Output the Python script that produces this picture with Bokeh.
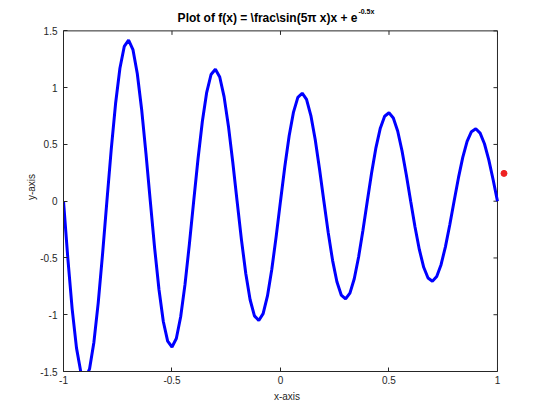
from bokeh.plotting import figure
from bokeh.models import FixedTicker, Label, Range1d
from bokeh.embed import file_html
from bokeh.resources import INLINE

# ---- data ----
x_vals = [-1.00, -0.98, -0.96, -0.94, -0.92, -0.90, -0.88, -0.86, -0.84, -0.82,
          -0.80, -0.78, -0.76, -0.74, -0.72, -0.70, -0.68, -0.66, -0.64, -0.62,
          -0.60, -0.58, -0.56, -0.54, -0.52, -0.50, -0.48, -0.46, -0.44, -0.42,
          -0.40, -0.38, -0.36, -0.34, -0.32, -0.30, -0.28, -0.26, -0.24, -0.22,
          -0.20, -0.18, -0.16, -0.14, -0.12, -0.10, -0.08, -0.06, -0.04, -0.02,
          0.00, 0.02, 0.04, 0.06, 0.08, 0.10, 0.12, 0.14, 0.16, 0.18,
          0.20, 0.22, 0.24, 0.26, 0.28, 0.30, 0.32, 0.34, 0.36, 0.38,
          0.40, 0.42, 0.44, 0.46, 0.48, 0.50, 0.52, 0.54, 0.56, 0.58,
          0.60, 0.62, 0.64, 0.66, 0.68, 0.70, 0.72, 0.74, 0.76, 0.78,
          0.80, 0.82, 0.84, 0.86, 0.88, 0.90, 0.92, 0.94, 0.96, 0.98, 1.00]
y_vals = [0.000, -0.504, -0.950, -1.294, -1.506, -1.568, -1.477, -1.244, -0.895, -0.466,
          0.000, 0.456, 0.860, 1.171, 1.363, 1.419, 1.336, 1.125, 0.810, 0.421,
          0.000, -0.413, -0.778, -1.060, -1.233, -1.284, -1.209, -1.018, -0.733, -0.381,
          0.000, 0.374, 0.704, 0.959, 1.116, 1.162, 1.094, 0.921, 0.663, 0.345,
          0.000, -0.338, -0.637, -0.868, -1.010, -1.051, -0.990, -0.834, -0.600, -0.312,
          0.000, 0.306, 0.576, 0.785, 0.914, 0.951, 0.896, 0.754, 0.543, 0.282,
          0.000, -0.277, -0.521, -0.710, -0.827, -0.861, -0.810, -0.683, -0.491, -0.256,
          0.000, 0.250, 0.472, 0.643, 0.748, 0.779, 0.733, 0.618, 0.444, 0.231,
          0.000, -0.227, -0.427, -0.582, -0.677, -0.705, -0.664, -0.559, -0.402, -0.209,
          0.000, 0.205, 0.386, 0.526, 0.612, 0.638, 0.600, 0.506, 0.364, 0.189, 0.000]
dot_x = [1.03]
dot_y = [0.245]
x_ticks = [-1, -0.5, 0, 0.5, 1]
x_tick_labels = ["-1", "-0.5", "0", "0.5", "1"]
y_ticks = [-1.5, -1, -0.5, 0, 0.5, 1, 1.5]
y_tick_labels = ["-1.5", "-1", "-0.5", "0", "0.5", "1", "1.5"]
x_limits = (-1, 1)
y_limits = (-1.5, 1.5)
title_main = "Plot of f(x) = \\frac\\sin(5\u03c0 x)x + e"
title_sup = "-0.5x"
x_label = "x-axis"
y_label = "y-axis"

AX = "#262626"
FONT = "Liberation Sans"
TICK = 4  # tick length in pixels

# the frame is a little larger than the axes box so that the title and the
# red point (both outside the box in the original) are not clipped
X_SPAN = (-1, 1.06)
Y_SPAN = (-1.5, 1.75)
FW, FH = 447, 369
p = figure(x_range=Range1d(*X_SPAN), y_range=Range1d(*Y_SPAN),
           frame_width=FW, frame_height=FH,
           output_backend="svg", toolbar_location=None,
           x_axis_label=x_label, y_axis_label=y_label,
           min_border_left=63, min_border_right=35, min_border_top=2, min_border_bottom=32)
p.grid.grid_line_color = None
p.outline_line_color = None

xo = {t: l for t, l in zip(x_ticks, x_tick_labels)}
yo = {t: l for t, l in zip(y_ticks, y_tick_labels)}

for ax, overrides, bounds in ((p.xaxis[0], xo, x_limits), (p.yaxis[0], yo, y_limits)):
    ax.ticker = FixedTicker(ticks=list(overrides.keys()))
    ax.major_label_overrides = overrides
    ax.bounds = bounds
    ax.minor_tick_line_color = None
    ax.major_tick_in = TICK
    ax.major_tick_out = 0
    ax.axis_line_color = AX
    ax.major_tick_line_color = AX
    ax.major_label_text_color = AX
    ax.major_label_text_font = FONT
    ax.major_label_text_font_size = "10px"
    ax.axis_label_text_font = FONT
    ax.axis_label_text_font_size = "10px"
    ax.axis_label_text_font_style = "normal"
    ax.axis_label_text_color = AX

p.xaxis[0].major_label_standoff = 4
p.xaxis[0].axis_label_standoff = 4
p.yaxis[0].major_label_standoff = 6
p.yaxis[0].axis_label_standoff = 0

# top and right sides of the axes box, with inward ticks
p.line(x=[x_limits[0], x_limits[1], x_limits[1]],
       y=[y_limits[1], y_limits[1], y_limits[0]],
       line_color=AX, line_width=1)
dy = TICK * (Y_SPAN[1] - Y_SPAN[0]) / FH
dx = TICK * (X_SPAN[1] - X_SPAN[0]) / FW
p.multi_line(xs=[[t, t] for t in x_ticks],
             ys=[[y_limits[1], y_limits[1] - dy] for _ in x_ticks],
             line_color=AX, line_width=1)
p.multi_line(xs=[[x_limits[1], x_limits[1] - dx] for _ in y_ticks],
             ys=[[t, t] for t in y_ticks],
             line_color=AX, line_width=1)

p.line(x_vals, y_vals, line_color="#0000ff", line_width=3)
p.scatter(dot_x, dot_y, size=6, color="#ee2222")

p.add_layout(Label(x=0.355, y=1.614, text=title_main, text_align="right",
                   text_baseline="alphabetic", text_color="black", text_font=FONT,
                   text_font_size="12px", text_font_style="bold"))
p.add_layout(Label(x=0.359, y=1.667, text=title_sup, text_align="left",
                   text_baseline="alphabetic", text_color="black", text_font=FONT,
                   text_font_size="7px", text_font_style="bold"))

open("out.html", "w").write(file_html(p, INLINE))
